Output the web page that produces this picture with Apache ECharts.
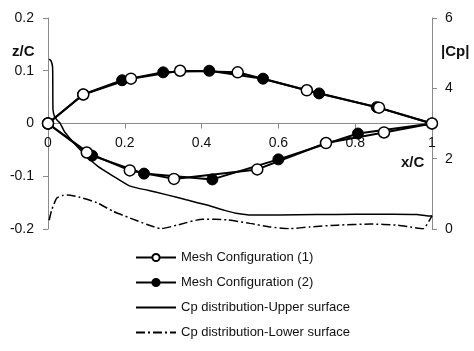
<!DOCTYPE html>
<html lang="en">
<head>
    <meta charset="UTF-8">
    <title>Mesh / Cp</title>
    <script src="https://cdn.jsdelivr.net/npm/echarts@6/dist/echarts.min.js"></script>
    <style>
        body { margin: 0; background: #fff; }
    </style>
</head>
<body>
<div id="main" style="width: 474px;height:351px;"></div>
<script>
    // [x/C, z/C] - closed loop: upper surface then lower surface
    var mesh1 = [[0, 0], [0.092, 0.055], [0.216, 0.085], [0.344, 0.1], [0.494, 0.097], [0.674, 0.063], [0.862, 0.030], [1, 0],
        [0.875, -0.017], [0.724, -0.037], [0.545, -0.087], [0.328, -0.105], [0.213, -0.089], [0.101, -0.055], [0, 0]];
    var mesh2 = [[0, 0], [0.091, 0.055], [0.193, 0.082], [0.30, 0.097], [0.42, 0.1], [0.56, 0.085], [0.706, 0.057], [0.856, 0.031], [1, 0],
        [0.807, -0.019], [0.60, -0.068], [0.428, -0.106], [0.25, -0.095], [0.115, -0.061], [0, 0]];
    // [x/C, |Cp|]
    var cpUpper = [[0.003, 4.83], [0.008, 4.78], [0.012, 4.6], [0.013, 3.4], [0.017, 3.2], [0.025, 3.08], [0.031, 3.02],
        [0.044, 2.75], [0.09, 2.18], [0.13, 1.78], [0.175, 1.47], [0.214, 1.22], [0.26, 1.1], [0.31, 0.97], [0.36, 0.83],
        [0.414, 0.68], [0.46, 0.53], [0.49, 0.45], [0.53, 0.40], [0.6, 0.40], [0.7, 0.41], [0.8, 0.42], [0.9, 0.42],
        [0.96, 0.41], [0.985, 0.38], [1.0, 0.37]];
    var cpLower = [[0.003, 0.25], [0.01, 0.55], [0.023, 0.88], [0.04, 0.96], [0.05, 0.97], [0.083, 0.9], [0.127, 0.75],
        [0.17, 0.5], [0.214, 0.31], [0.26, 0.12], [0.295, 0.01], [0.336, 0.11], [0.404, 0.28], [0.466, 0.26], [0.526, 0.16],
        [0.578, 0.06], [0.63, 0.01], [0.682, 0.06], [0.753, 0.11], [0.84, 0.14], [0.909, 0.11], [0.943, 0.06],
        [0.977, 0.01], [1.0, 0.38]];
    var names = ['Mesh Configuration (1)', 'Mesh Configuration (2)', 'Cp distribution-Upper surface', 'Cp distribution-Lower surface'];

    var font = '"Liberation Sans", Arial, sans-serif';
    var axisGrey = '#8a8a8a';

    var option = {
        animation: false,
        backgroundColor: '#fff',
        grid: { left: 48, right: 42, top: 18, bottom: 122 },
        legend: {
            orient: 'vertical',
            left: 130, top: 246,
            itemWidth: 40, itemHeight: 9, itemGap: 12,
            data: [
                { name: names[0] },
                { name: names[1] },
                { name: names[2], itemStyle: { opacity: 0 } },
                { name: names[3], itemStyle: { opacity: 0 } }
            ],
            textStyle: { fontFamily: font, fontSize: 13, color: '#111' }
        },
        xAxis: {
            type: 'value', min: 0, max: 1, interval: 0.2,
            offset: -105.5,
            axisLine: { show: true, onZero: false, lineStyle: { color: axisGrey, width: 1 } },
            axisTick: { show: true, length: 5, lineStyle: { color: axisGrey } },
            axisLabel: { margin: 13, fontFamily: font, fontSize: 14, color: '#111' },
            splitLine: { show: false }
        },
        yAxis: [{
            type: 'value', min: -0.2, max: 0.2, interval: 0.1, position: 'left',
            axisLine: { show: true, onZero: false, lineStyle: { color: axisGrey, width: 1 } },
            axisTick: { show: true, length: 5, lineStyle: { color: axisGrey } },
            axisLabel: { margin: 14, fontFamily: font, fontSize: 14, color: '#111' },
            splitLine: { show: false }
        }, {
            type: 'value', min: 0, max: 6, interval: 2, position: 'right',
            axisLine: { show: true, onZero: false, lineStyle: { color: axisGrey, width: 1 } },
            axisTick: { show: true, length: 5, lineStyle: { color: axisGrey } },
            axisLabel: { margin: 13, fontFamily: font, fontSize: 14, color: '#111' },
            splitLine: { show: false }
        }],
        graphic: [
            { type: 'text', left: 12, top: 44, style: { text: 'z/C', font: 'bold 15px ' + font, fill: '#111' } },
            { type: 'text', left: 441, top: 44, style: { text: '|Cp|', font: 'bold 15px ' + font, fill: '#111' } },
            { type: 'text', left: 401, top: 155, style: { text: 'x/C', font: 'bold 15px ' + font, fill: '#111' } }
        ],
        series: [{
            name: names[0], type: 'line', yAxisIndex: 0, data: mesh1, z: 4,
            symbol: 'circle', symbolSize: 11,
            itemStyle: { color: '#fff', borderColor: '#000', borderWidth: 1.5 },
            lineStyle: { color: '#000', width: 2 }
        }, {
            name: names[1], type: 'line', yAxisIndex: 0, data: mesh2, z: 3,
            symbol: 'circle', symbolSize: 11,
            itemStyle: { color: '#000', borderColor: '#000', borderWidth: 1 },
            lineStyle: { color: '#000', width: 2 }
        }, {
            name: names[2], type: 'line', yAxisIndex: 1, data: cpUpper, z: 2,
            showSymbol: false, symbol: 'none', smooth: 0.2,
            itemStyle: { color: '#000' },
            lineStyle: { color: '#000', width: 1.5 }
        }, {
            name: names[3], type: 'line', yAxisIndex: 1, data: cpLower, z: 2,
            showSymbol: false, symbol: 'none', smooth: 0.2,
            itemStyle: { color: '#000' },
            lineStyle: { color: '#000', width: 1.5, type: [9, 3, 2, 3] }
        }]
    };

    var myChart = echarts.init(document.getElementById('main'));
    myChart.setOption(option);
</script>
</body>
</html>
